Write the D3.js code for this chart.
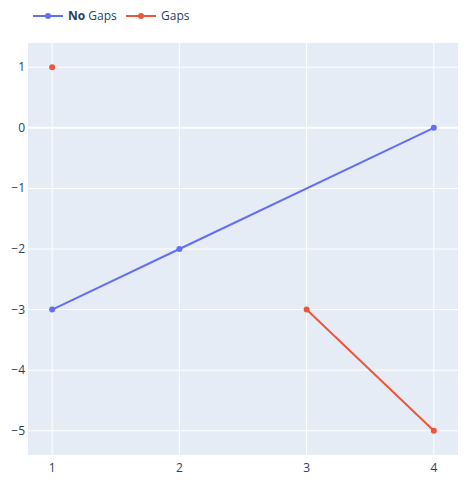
<!DOCTYPE html>
<html><head><meta charset="utf-8">
<script src="https://cdn.jsdelivr.net/npm/d3@7"></script>
<style>body{margin:0;background:#fff}text{font-family:"Open Sans",sans-serif;fill:#2a3f5f}</style>
</head><body><svg id="c" width="474" height="484"></svg>
<script>
const xCats=[1,2,3,4];
const noGaps=[-3,-2,null,0];
const gaps=[1,null,-3,-5];
const yTicks=[1,0,-1,-2,-3,-4,-5];
const xTicks=[1,2,3,4];
const svg=d3.select("#c");
const L=28,R=458,T=43,B=455;
const x=d3.scaleLinear().domain([0.81,4.19]).range([L,R]);
const y=d3.scaleLinear().domain([-5.4,1.4]).range([B,T]);
svg.append("rect").attr("x",L).attr("y",T).attr("width",R-L).attr("height",B-T).attr("fill","#e5ecf6");
const g=svg.append("g");
xTicks.forEach(t=>g.append("line").attr("x1",x(t)).attr("x2",x(t)).attr("y1",T).attr("y2",B).attr("stroke","#fff"));
yTicks.forEach(t=>g.append("line").attr("y1",y(t)).attr("y2",y(t)).attr("x1",L).attr("x2",R).attr("stroke","#fff").attr("stroke-width",t===0?2:1));
xTicks.forEach(t=>svg.append("text").attr("x",x(t)).attr("y",B+17).attr("text-anchor","middle").attr("font-size",12).text(t));
yTicks.forEach(t=>svg.append("text").attr("x",L-3).attr("y",y(t)+4).attr("text-anchor","end").attr("font-size",12).text(t<0?"\u2212"+(-t):t));
function draw(vals,color,connect){
  const pts=xCats.map((c,i)=>({x:c,y:vals[i]}));
  const line=d3.line().x(d=>x(d.x)).y(d=>y(d.y)).defined(d=>d.y!==null);
  const data=connect?pts.filter(d=>d.y!==null):pts;
  svg.append("path").attr("d",line(data)).attr("fill","none").attr("stroke",color).attr("stroke-width",2);
  svg.selectAll(null).data(pts.filter(d=>d.y!==null)).enter().append("circle")
    .attr("cx",d=>x(d.x)).attr("cy",d=>y(d.y)).attr("r",3).attr("fill",color);
}
draw(noGaps,"#636efa",true);
draw(gaps,"#EF553B",false);
function leg(x0,color,label){
  svg.append("line").attr("x1",x0).attr("x2",x0+30).attr("y1",16).attr("y2",16).attr("stroke",color).attr("stroke-width",2);
  svg.append("circle").attr("cx",x0+15).attr("cy",16).attr("r",3).attr("fill",color);
  const t=svg.append("text").attr("x",x0+35).attr("y",20).attr("font-size",12);
  label(t);
}
leg(33,"#636efa",t=>{t.append("tspan").attr("font-weight","bold").text("No");t.append("tspan").text(" Gaps");});
leg(126,"#EF553B",t=>t.text("Gaps"));
</script></body></html>
